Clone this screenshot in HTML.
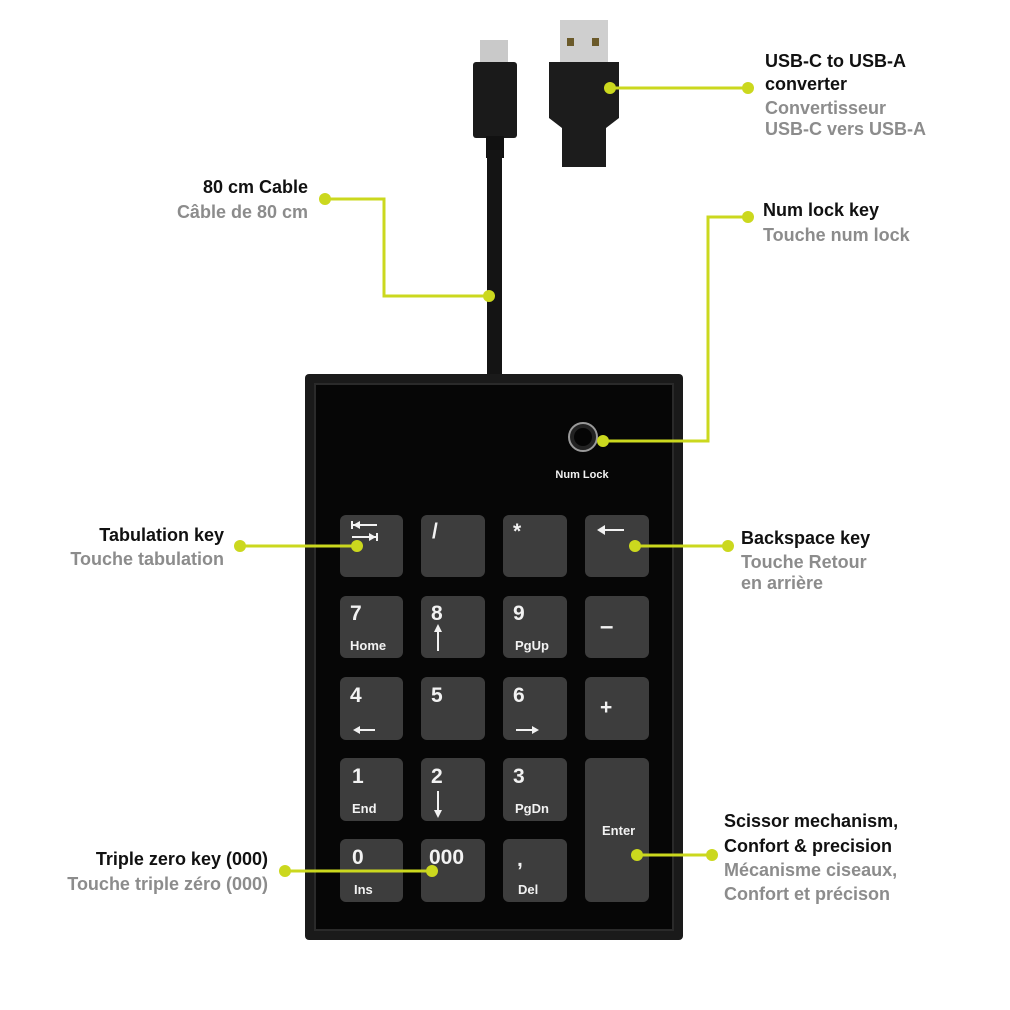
<!DOCTYPE html>
<html><head><meta charset="utf-8"><style>
html,body{margin:0;padding:0;background:#fff;}
svg{display:block}
.b{font-family:"Liberation Sans",sans-serif;font-weight:bold;font-size:18px;fill:#111}
.g{font-family:"Liberation Sans",sans-serif;font-weight:bold;font-size:18px;fill:#8c8c8c}
.k{font-family:"Liberation Sans",sans-serif;font-weight:bold;fill:#f2f2f2}
</style></head><body>
<svg width="1010" height="1010" viewBox="0 0 1010 1010" xmlns="http://www.w3.org/2000/svg">
<!-- cable -->
<rect x="480" y="40" width="28" height="24" fill="#c9c9c9"/>
<rect x="473" y="62" width="44" height="76" rx="3" fill="#1a1a1a"/>
<rect x="486" y="136" width="18" height="22" fill="#111"/>
<rect x="487" y="150" width="15" height="226" fill="#141414"/>
<!-- USB-A -->
<rect x="560" y="20" width="48" height="44" fill="#cfcfcf"/>
<rect x="567" y="38" width="7" height="8" fill="#6b5a2a"/>
<rect x="592" y="38" width="7" height="8" fill="#6b5a2a"/>
<path d="M549 62 H619 V118 L606 128 V167 H562 V128 L549 118 Z" fill="#1c1c1c"/>
<!-- keypad body -->
<rect x="305" y="374" width="378" height="566" rx="4" fill="#1a1a1a"/>
<rect x="315" y="384" width="358" height="546" fill="#060606" stroke="#2a2a2a" stroke-width="2"/>
<!-- num lock -->
<circle cx="583" cy="437" r="14" fill="#222" stroke="#999" stroke-width="2"/>
<circle cx="583" cy="437" r="9" fill="#050505"/>
<text x="582" y="478" class="k" font-size="11" text-anchor="middle">Num Lock</text>
<!-- keys -->
<g fill="#3d3d3d">
<rect x="340" y="515" width="63" height="62" rx="6"/>
<rect x="421" y="515" width="64" height="62" rx="6"/>
<rect x="503" y="515" width="64" height="62" rx="6"/>
<rect x="585" y="515" width="64" height="62" rx="6"/>
<rect x="340" y="596" width="63" height="62" rx="6"/>
<rect x="421" y="596" width="64" height="62" rx="6"/>
<rect x="503" y="596" width="64" height="62" rx="6"/>
<rect x="585" y="596" width="64" height="62" rx="6"/>
<rect x="340" y="677" width="63" height="63" rx="6"/>
<rect x="421" y="677" width="64" height="63" rx="6"/>
<rect x="503" y="677" width="64" height="63" rx="6"/>
<rect x="585" y="677" width="64" height="63" rx="6"/>
<rect x="340" y="758" width="63" height="63" rx="6"/>
<rect x="421" y="758" width="64" height="63" rx="6"/>
<rect x="503" y="758" width="64" height="63" rx="6"/>
<rect x="585" y="758" width="64" height="144" rx="6"/>
<rect x="340" y="839" width="63" height="63" rx="6"/>
<rect x="421" y="839" width="64" height="63" rx="6"/>
<rect x="503" y="839" width="64" height="63" rx="6"/>
</g>
<g stroke="#f2f2f2" stroke-width="2" fill="none">
<path d="M352 525 H377 M352 521 V529 M352 537 H377 M377 533 V541"/>
<path d="M600 530 H624"/>
<path d="M438 627 V651 M438 791 V815 M356 730 H375 M516 730 H536"/>
</g>
<g fill="#f2f2f2">
<path d="M353 525 l7 -4 v8 z M376 537 l-7 -4 v8 z"/>
<path d="M597 530 l8 -5 v10 z"/>
<path d="M438 624 l-4 8 h8 z M438 818 l-4 -8 h8 z M353 730 l7 -4 v8 z M539 730 l-7 -4 v8 z"/>
</g>
<g class="k" font-size="21">
<text x="432" y="538">/</text>
<text x="513" y="538">*</text>
<text x="350" y="620">7</text>
<text x="431" y="620">8</text>
<text x="513" y="620">9</text>
<text x="600" y="634" font-size="24">–</text>
<text x="350" y="702">4</text>
<text x="431" y="702">5</text>
<text x="513" y="702">6</text>
<text x="600" y="714">+</text>
<text x="352" y="783">1</text>
<text x="431" y="783">2</text>
<text x="513" y="783">3</text>
<text x="352" y="864">0</text>
<text x="429" y="864">000</text>
<text x="517" y="866">,</text>
</g>
<g class="k" font-size="13">
<text x="350" y="650">Home</text>
<text x="515" y="650">PgUp</text>
<text x="352" y="813">End</text>
<text x="515" y="813">PgDn</text>
<text x="354" y="894">Ins</text>
<text x="518" y="894">Del</text>
<text x="602" y="835">Enter</text>
</g>
<!-- callout lines -->
<g stroke="#cbd81e" stroke-width="3" fill="none">
<path d="M610 88 H748"/>
<path d="M325 199 H384 V296 H489"/>
<path d="M603 441 H708 V217 H748"/>
<path d="M240 546 H357"/>
<path d="M635 546 H728"/>
<path d="M637 855 H712"/>
<path d="M285 871 H432"/>
</g>
<g fill="#cbd81e">
<circle cx="610" cy="88" r="6"/><circle cx="748" cy="88" r="6"/>
<circle cx="325" cy="199" r="6"/><circle cx="489" cy="296" r="6"/>
<circle cx="603" cy="441" r="6"/><circle cx="748" cy="217" r="6"/>
<circle cx="240" cy="546" r="6"/><circle cx="357" cy="546" r="6"/>
<circle cx="635" cy="546" r="6"/><circle cx="728" cy="546" r="6"/>
<circle cx="637" cy="855" r="6"/><circle cx="712" cy="855" r="6"/>
<circle cx="285" cy="871" r="6"/><circle cx="432" cy="871" r="6"/>
</g>
<!-- labels -->
<text x="765" y="67" class="b">USB-C to USB-A</text>
<text x="765" y="90" class="b">converter</text>
<text x="765" y="114" class="g">Convertisseur</text>
<text x="765" y="135" class="g">USB-C vers USB-A</text>
<text x="308" y="193" class="b" text-anchor="end">80 cm Cable</text>
<text x="308" y="218" class="g" text-anchor="end">Câble de 80 cm</text>
<text x="763" y="216" class="b">Num lock key</text>
<text x="763" y="241" class="g">Touche num lock</text>
<text x="224" y="541" class="b" text-anchor="end">Tabulation key</text>
<text x="224" y="565" class="g" text-anchor="end">Touche tabulation</text>
<text x="741" y="544" class="b">Backspace key</text>
<text x="741" y="568" class="g">Touche Retour</text>
<text x="741" y="589" class="g">en arrière</text>
<text x="724" y="827" class="b">Scissor mechanism,</text>
<text x="724" y="852" class="b">Confort &amp; precision</text>
<text x="724" y="876" class="g">Mécanisme ciseaux,</text>
<text x="724" y="900" class="g">Confort et précison</text>
<text x="268" y="865" class="b" text-anchor="end">Triple zero key (000)</text>
<text x="268" y="890" class="g" text-anchor="end">Touche triple zéro (000)</text>
</svg>
</body></html>
